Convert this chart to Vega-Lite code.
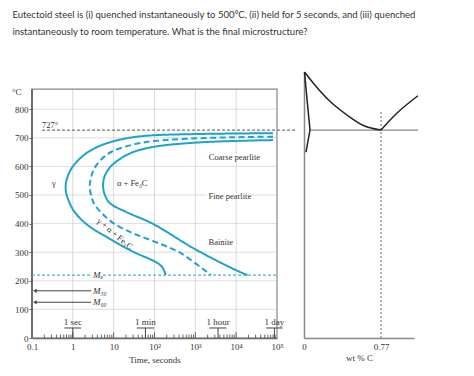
{
  "$schema": "https://vega.github.io/schema/vega-lite/v6.json",
  "padding": {"left": 11, "top": 9, "right": 5, "bottom": 5},
  "title": {
    "text": ["Eutectoid steel is (i) quenched instantaneously to 500°C, (ii) held for 5 seconds, and (iii) quenched", "instantaneously to room temperature. What is the final microstructure?"],
    "anchor": "start", "frame": "bounds", "dx": 1, "font": "Lato", "fontSize": 9.5, "fontWeight": "normal", "color": "#333", "lineHeight": 17, "offset": 33
  },
  "resolve": {"scale": {"y": "independent", "x": "independent"}},
  "config": {
    "view": {"stroke": null},
    "axis": {"labelFont": "Liberation Serif", "titleFont": "Liberation Serif", "labelFontSize": 9, "titleFontSize": 9, "titleFontWeight": "normal", "labelColor": "#333", "titleColor": "#333", "labelFlush": false, "labelOverlap": false}
  },
  "datasets": {
    "decade": [{"t": 1}, {"t": 10}, {"t": 100}, {"t": 1000}, {"t": 10000}],
    "minor": [
      {"t": 0.2}, {"t": 0.3}, {"t": 0.4}, {"t": 0.5}, {"t": 0.6}, {"t": 0.7}, {"t": 0.8}, {"t": 0.9},
      {"t": 2}, {"t": 3}, {"t": 4}, {"t": 5}, {"t": 6}, {"t": 7}, {"t": 8}, {"t": 9},
      {"t": 20}, {"t": 30}, {"t": 40}, {"t": 50}, {"t": 60}, {"t": 70}, {"t": 80}, {"t": 90},
      {"t": 200}, {"t": 300}, {"t": 400}, {"t": 500}, {"t": 600}, {"t": 700}, {"t": 800}, {"t": 900},
      {"t": 2000}, {"t": 3000}, {"t": 4000}, {"t": 5000}, {"t": 6000}, {"t": 7000}, {"t": 8000}, {"t": 9000},
      {"t": 20000}, {"t": 30000}, {"t": 40000}, {"t": 50000}, {"t": 60000}, {"t": 70000}, {"t": 80000}, {"t": 90000}
    ],
    "hgrid": [{"T": 100}, {"T": 200}, {"T": 300}, {"T": 400}, {"T": 500}, {"T": 600}, {"T": 700}, {"T": 800}],
    "brackets": [
      {"label": "1 sec", "t": 1, "lo": 0.62, "hi": 1.6},
      {"label": "1 min", "t": 60, "lo": 37, "hi": 97},
      {"label": "1 hour", "t": 3600, "lo": 2200, "hi": 5800},
      {"label": "1 day", "t": 86400, "lo": 54000, "hi": 138000}
    ],
    "ms": [{"t1": 0.1, "t2": 2.7}, {"t1": 5.5, "t2": 100000}],
    "marrows": [{"T": 165}, {"T": 125}],
    "mlabels": [{"label": "Mₛ", "T": 220}, {"label": "M₅₀", "T": 165}, {"label": "M₉₀", "T": 125}],
    "labels": [
      {"txt": "727°", "t": 0.176, "T": 743},
      {"txt": "γ", "t": 0.31, "T": 541},
      {"txt": "α  + Fe₃C", "t": 12, "T": 541},
      {"txt": "Coarse pearlite", "t": 2140, "T": 634},
      {"txt": "Fine pearlite", "t": 2100, "T": 497},
      {"txt": "Bainite", "t": 2100, "T": 336}
    ],
    "ttt": [
      {"c": "start", "i": 0, "t": 80000, "T": 716},
      {"c": "start", "i": 1, "t": 10000, "T": 715},
      {"c": "start", "i": 2, "t": 1000, "T": 713},
      {"c": "start", "i": 3, "t": 100, "T": 709},
      {"c": "start", "i": 4, "t": 30, "T": 702},
      {"c": "start", "i": 5, "t": 10, "T": 688},
      {"c": "start", "i": 6, "t": 4, "T": 668},
      {"c": "start", "i": 7, "t": 2, "T": 643},
      {"c": "start", "i": 8, "t": 1, "T": 600},
      {"c": "start", "i": 9, "t": 0.75, "T": 565},
      {"c": "start", "i": 10, "t": 0.67, "T": 535},
      {"c": "start", "i": 11, "t": 0.7, "T": 503},
      {"c": "start", "i": 12, "t": 1.0, "T": 450},
      {"c": "start", "i": 13, "t": 2.07, "T": 400},
      {"c": "start", "i": 14, "t": 7.7, "T": 348},
      {"c": "start", "i": 15, "t": 31.6, "T": 300},
      {"c": "start", "i": 16, "t": 100, "T": 268},
      {"c": "start", "i": 17, "t": 150, "T": 250},
      {"c": "start", "i": 18, "t": 175, "T": 233},
      {"c": "start", "i": 19, "t": 188, "T": 220},
      {"c": "mid", "i": 0, "t": 80000, "T": 704},
      {"c": "mid", "i": 1, "t": 10000, "T": 702},
      {"c": "mid", "i": 2, "t": 1000, "T": 698},
      {"c": "mid", "i": 3, "t": 100, "T": 689},
      {"c": "mid", "i": 4, "t": 30, "T": 676},
      {"c": "mid", "i": 5, "t": 10, "T": 655},
      {"c": "mid", "i": 6, "t": 6, "T": 635},
      {"c": "mid", "i": 7, "t": 3.6, "T": 600},
      {"c": "mid", "i": 8, "t": 2.9, "T": 570},
      {"c": "mid", "i": 9, "t": 2.6, "T": 535},
      {"c": "mid", "i": 10, "t": 2.75, "T": 503},
      {"c": "mid", "i": 11, "t": 3.3, "T": 470},
      {"c": "mid", "i": 12, "t": 5, "T": 438},
      {"c": "mid", "i": 13, "t": 10.2, "T": 400},
      {"c": "mid", "i": 14, "t": 30, "T": 366},
      {"c": "mid", "i": 15, "t": 100, "T": 337},
      {"c": "mid", "i": 16, "t": 400, "T": 300},
      {"c": "mid", "i": 17, "t": 1480, "T": 243},
      {"c": "mid", "i": 18, "t": 2400, "T": 220},
      {"c": "finish", "i": 0, "t": 80000, "T": 692},
      {"c": "finish", "i": 1, "t": 10000, "T": 689},
      {"c": "finish", "i": 2, "t": 1000, "T": 683},
      {"c": "finish", "i": 3, "t": 100, "T": 669},
      {"c": "finish", "i": 4, "t": 30, "T": 650},
      {"c": "finish", "i": 5, "t": 15, "T": 628},
      {"c": "finish", "i": 6, "t": 8.5, "T": 600},
      {"c": "finish", "i": 7, "t": 6.1, "T": 568},
      {"c": "finish", "i": 8, "t": 5.5, "T": 535},
      {"c": "finish", "i": 9, "t": 6.0, "T": 503},
      {"c": "finish", "i": 10, "t": 8, "T": 472},
      {"c": "finish", "i": 11, "t": 20, "T": 441},
      {"c": "finish", "i": 12, "t": 89, "T": 400},
      {"c": "finish", "i": 13, "t": 1000, "T": 310},
      {"c": "finish", "i": 14, "t": 10000, "T": 237},
      {"c": "finish", "i": 15, "t": 19000, "T": 220}
    ],
    "a3": [{"w": 0.005, "T": 930}, {"w": 0.10, "T": 888}, {"w": 0.27, "T": 824}, {"w": 0.44, "T": 777}, {"w": 0.60, "T": 742}, {"w": 0.77, "T": 727}],
    "acm": [{"w": 0.77, "T": 727}, {"w": 0.92, "T": 783}, {"w": 1.14, "T": 847}],
    "alpha": [{"i": 0, "w": 0.005, "T": 930}, {"i": 1, "w": 0.03, "T": 835}, {"i": 2, "w": 0.06, "T": 727}, {"i": 3, "w": 0.02, "T": 650}]
  },
  "hconcat": [
    {
      "width": 245,
      "height": 266,
      "layer": [
        {
          "data": {"name": "hgrid"},
          "mark": {"type": "rule", "color": "#d4d4d4", "strokeWidth": 0.8},
          "encoding": {
            "x": {"datum": 0.1, "type": "quantitative", "scale": {"type": "log", "domain": [0.1, 100000], "nice": false},
              "axis": {"values": [0.1, 1, 10, 100, 1000, 10000, 100000], "labelExpr": "datum.value < 0.5 ? '0.1' : datum.value < 5 ? '1' : datum.value < 50 ? '10' : datum.value < 500 ? '10²' : datum.value < 5000 ? '10³' : datum.value < 50000 ? '10⁴' : '10⁵'", "ticks": false, "grid": false, "domainColor": "#555", "domainWidth": 1.3, "labelPadding": 4, "title": "Time, seconds", "titlePadding": 4}},
            "x2": {"datum": 100000},
            "y": {"field": "T", "type": "quantitative", "scale": {"domain": [0, 930], "nice": false},
              "axis": {"values": [0, 100, 200, 300, 400, 500, 600, 700, 800], "tickCount": 9, "labelOverlap": false, "grid": false, "tickSize": 3, "tickColor": "#666", "labelPadding": 1, "domain": false, "minExtent": 0, "title": "°C", "titleAngle": 0, "titleAlign": "right", "titleBaseline": "middle", "titleX": -11, "titleY": 19}}
          }
        },
        {
          "data": {"name": "decade"},
          "mark": {"type": "rule", "color": "#cfcfcf", "strokeWidth": 0.8},
          "encoding": {
            "x": {"field": "t", "type": "quantitative", "scale": {"type": "log"}},
            "y": {"datum": 0, "type": "quantitative"},
            "y2": {"datum": 870}
          }
        },
        {
          "data": {"values": [{}]},
          "mark": {"type": "rect", "color": "white"},
          "encoding": {
            "x": {"datum": 1950, "type": "quantitative", "scale": {"type": "log"}},
            "x2": {"datum": 26000},
            "y": {"datum": 623, "type": "quantitative"},
            "y2": {"datum": 645}
          }
        },
        {
          "data": {"values": [{}]},
          "mark": {"type": "rect", "color": "white"},
          "encoding": {
            "x": {"datum": 1900, "type": "quantitative", "scale": {"type": "log"}},
            "x2": {"datum": 23000},
            "y": {"datum": 487, "type": "quantitative"},
            "y2": {"datum": 507}
          }
        },
        {
          "data": {"values": [{}]},
          "mark": {"type": "rect", "filled": false, "stroke": "#888", "strokeWidth": 1.2},
          "encoding": {
            "x": {"datum": 0.1, "type": "quantitative", "scale": {"type": "log"}},
            "x2": {"datum": 100000},
            "y": {"datum": 0, "type": "quantitative"},
            "y2": {"datum": 870}
          }
        },
        {
          "data": {"values": [{}]},
          "mark": {"type": "rule", "color": "#555", "strokeWidth": 1.5},
          "encoding": {
            "x": {"datum": 0.1, "type": "quantitative", "scale": {"type": "log"}},
            "y": {"datum": 0, "type": "quantitative"},
            "y2": {"datum": 870}
          }
        },
        {
          "data": {"values": [{}]},
          "mark": {"type": "rule", "color": "#777", "strokeWidth": 1.2, "strokeDash": [3, 2]},
          "encoding": {
            "x": {"datum": 0.176, "type": "quantitative", "scale": {"type": "log"}},
            "x2": {"datum": 300000},
            "y": {"datum": 727, "type": "quantitative"}
          }
        },
        {
          "data": {"name": "ms"},
          "mark": {"type": "rule", "color": "#4fb5c4", "strokeWidth": 1.3, "strokeDash": [3, 2]},
          "encoding": {
            "x": {"field": "t1", "type": "quantitative", "scale": {"type": "log"}},
            "x2": {"field": "t2"},
            "y": {"datum": 220, "type": "quantitative"}
          }
        },
        {
          "data": {"name": "ttt"},
          "mark": {"type": "line", "color": "#1ea3c9", "strokeWidth": 2, "interpolate": "catmull-rom"},
          "encoding": {
            "x": {"field": "t", "type": "quantitative", "scale": {"type": "log"}},
            "y": {"field": "T", "type": "quantitative"},
            "detail": {"field": "c"},
            "order": {"field": "i", "type": "quantitative"},
            "strokeDash": {"field": "c", "type": "nominal", "scale": {"domain": ["start", "mid", "finish"], "range": [[1, 0], [6, 3.5], [1, 0]]}, "legend": null}
          }
        },
        {
          "data": {"name": "marrows"},
          "mark": {"type": "rule", "color": "#444", "strokeWidth": 1},
          "encoding": {
            "x": {"datum": 0.12, "type": "quantitative", "scale": {"type": "log"}},
            "x2": {"datum": 2.8},
            "y": {"field": "T", "type": "quantitative"}
          }
        },
        {
          "data": {"name": "marrows"},
          "mark": {"type": "point", "shape": "triangle-left", "filled": true, "color": "#444", "size": 18, "opacity": 1},
          "encoding": {
            "x": {"datum": 0.118, "type": "quantitative", "scale": {"type": "log"}},
            "y": {"field": "T", "type": "quantitative"}
          }
        },
        {
          "data": {"name": "mlabels"},
          "mark": {"type": "text", "font": "Liberation Serif", "fontSize": 9, "fontStyle": "italic", "color": "#333", "align": "left", "baseline": "middle"},
          "encoding": {
            "x": {"datum": 3.1, "type": "quantitative", "scale": {"type": "log"}},
            "y": {"field": "T", "type": "quantitative"},
            "text": {"field": "label"}
          }
        },
        {
          "data": {"name": "labels"},
          "mark": {"type": "text", "font": "Liberation Serif", "fontSize": 8.5, "color": "#333", "align": "left", "baseline": "middle"},
          "encoding": {
            "x": {"field": "t", "type": "quantitative", "scale": {"type": "log"}},
            "y": {"field": "T", "type": "quantitative"},
            "text": {"field": "txt"}
          }
        },
        {
          "data": {"values": [{"txt": "γ + α + Fe₃C", "t": 10.8, "T": 365}]},
          "mark": {"type": "text", "font": "Liberation Serif", "fontSize": 8.5, "color": "#333", "align": "center", "baseline": "middle", "angle": 40},
          "encoding": {
            "x": {"field": "t", "type": "quantitative", "scale": {"type": "log"}},
            "y": {"field": "T", "type": "quantitative"},
            "text": {"field": "txt"}
          }
        },
        {
          "data": {"name": "minor"},
          "mark": {"type": "rule", "color": "#444", "strokeWidth": 0.8},
          "encoding": {
            "x": {"field": "t", "type": "quantitative", "scale": {"type": "log"}},
            "y": {"datum": 0, "type": "quantitative"},
            "y2": {"datum": 12}
          }
        },
        {
          "data": {"name": "decade"},
          "mark": {"type": "rule", "color": "#444", "strokeWidth": 0.8},
          "encoding": {
            "x": {"field": "t", "type": "quantitative", "scale": {"type": "log"}},
            "y": {"datum": 0, "type": "quantitative"},
            "y2": {"datum": 20}
          }
        },
        {
          "data": {"name": "brackets"},
          "mark": {"type": "rule", "color": "#444", "strokeWidth": 1},
          "encoding": {
            "x": {"field": "t", "type": "quantitative", "scale": {"type": "log"}},
            "y": {"datum": 0, "type": "quantitative"},
            "y2": {"datum": 35}
          }
        },
        {
          "data": {"name": "brackets"},
          "mark": {"type": "rule", "color": "#444", "strokeWidth": 1},
          "encoding": {
            "x": {"field": "lo", "type": "quantitative", "scale": {"type": "log"}},
            "x2": {"field": "hi"},
            "y": {"datum": 35, "type": "quantitative"}
          }
        },
        {
          "data": {"name": "brackets"},
          "mark": {"type": "text", "font": "Liberation Serif", "fontSize": 9, "color": "#333", "align": "center", "baseline": "middle"},
          "encoding": {
            "x": {"field": "t", "type": "quantitative", "scale": {"type": "log"}},
            "y": {"datum": 56, "type": "quantitative"},
            "text": {"field": "label"}
          }
        }
      ]
    },
    {
      "width": 110,
      "height": 266,
      "layer": [
        {
          "data": {"values": [{}]},
          "mark": {"type": "rule", "color": "#888", "strokeWidth": 1.2},
          "encoding": {
            "x": {"datum": 0.06, "type": "quantitative", "scale": {"domain": [0, 1.1], "nice": false},
              "axis": {"values": [0, 0.77], "labelExpr": "datum.value < 0.1 ? '0' : '0.77'", "ticks": false, "grid": false, "domainColor": "#888", "domainWidth": 1.5, "labelPadding": 4, "title": "wt % C", "titlePadding": 2}},
            "x2": {"datum": 1.14},
            "y": {"datum": 727, "type": "quantitative", "scale": {"domain": [0, 930], "nice": false},
              "axis": {"labels": false, "ticks": false, "grid": false, "domainColor": "#888", "domainWidth": 1.5, "minExtent": 0, "title": null}}
          }
        },
        {
          "data": {"values": [{}]},
          "mark": {"type": "rule", "color": "#888", "strokeWidth": 1.2, "strokeDash": [2, 2]},
          "encoding": {
            "x": {"datum": 0.77, "type": "quantitative"},
            "y": {"datum": 0, "type": "quantitative"},
            "y2": {"datum": 794}
          }
        },
        {
          "data": {"name": "a3"},
          "mark": {"type": "line", "color": "#222", "strokeWidth": 1.5, "interpolate": "monotone"},
          "encoding": {
            "x": {"field": "w", "type": "quantitative"},
            "y": {"field": "T", "type": "quantitative"}
          }
        },
        {
          "data": {"name": "acm"},
          "mark": {"type": "line", "color": "#222", "strokeWidth": 1.5, "interpolate": "monotone"},
          "encoding": {
            "x": {"field": "w", "type": "quantitative"},
            "y": {"field": "T", "type": "quantitative"}
          }
        },
        {
          "data": {"name": "alpha"},
          "mark": {"type": "line", "color": "#222", "strokeWidth": 1.5},
          "encoding": {
            "x": {"field": "w", "type": "quantitative"},
            "y": {"field": "T", "type": "quantitative"},
            "order": {"field": "i", "type": "quantitative"}
          }
        }
      ]
    }
  ],
  "spacing": 3
}
